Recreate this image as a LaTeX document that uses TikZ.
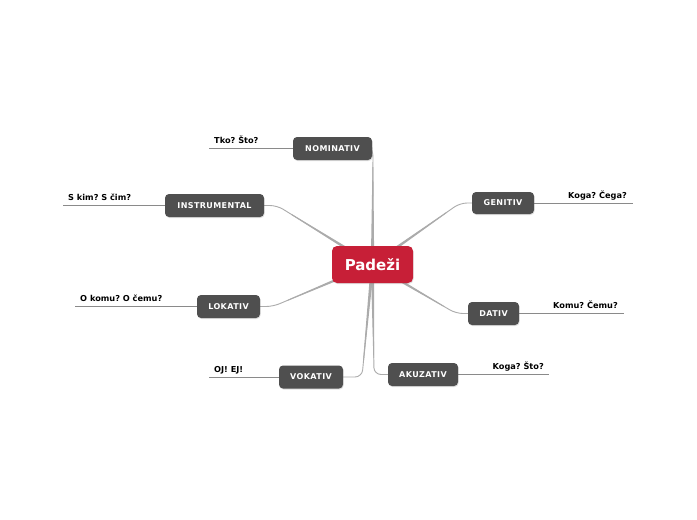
\documentclass[tikz,border=0pt]{standalone}
\usepackage{fontspec}
\setmainfont{DejaVu Sans}
\newfontfamily\boxfont[LetterSpace=5]{DejaVu Sans}
\usetikzlibrary{calc,shadows,backgrounds}
\frenchspacing
\definecolor{rootred}{HTML}{C71F37}
\definecolor{boxgray}{HTML}{4F4F4F}
\definecolor{conngray}{HTML}{ABABAB}
\definecolor{labgray}{HTML}{8A8A8A}
\tikzset{
  casebox/.style={draw=none, fill=boxgray, rounded corners=4pt, text=white,
    font=\boxfont\bfseries\fontsize{8}{9}\selectfont, inner sep=0pt,
    minimum height=23pt, drop shadow={shadow xshift=0.6pt, shadow yshift=-1pt, opacity=0.25}},
  rootbox/.style={draw=none, fill=rootred, rounded corners=5pt, text=white,
    font=\bfseries\fontsize{15}{18}\selectfont, inner sep=0pt,
    minimum width=81pt, minimum height=37pt,
    drop shadow={shadow xshift=0.6pt, shadow yshift=-1pt, opacity=0.25}},
  qtext/.style={font=\bfseries\fontsize{8.2}{9}\selectfont, inner sep=0pt, anchor=base west},
  qtextr/.style={qtext, anchor=base east},
  labline/.style={draw=labgray, line width=0.7pt},
  connline/.style={draw=conngray, line width=0.9pt, rounded corners=7pt},
}
\newcommand\taper[2]{%
  \fill[conngray] ($(#1)!1.7pt!90:(#2)$) -- ($(#2)!0.45pt!-90:(#1)$) --
    ($(#2)!0.45pt!90:(#1)$) -- ($(#1)!1.7pt!-90:(#2)$) -- cycle;}
\begin{document}
\begin{tikzpicture}[x=1pt,y=-1pt]
\useasboundingbox (0,0) rectangle (697,520);
% nodes
\node[rootbox] (root) at (372.5,264.5) {Padeži};
\node[casebox, minimum width=79pt] (nom) at (332.5,148.5) {NOMINATIV};
\node[casebox, minimum width=99pt] (ins) at (214.5,205.5) {INSTRUMENTAL};
\node[casebox, minimum width=62pt, minimum height=22pt] (gen) at (503,203) {GENITIV};
\node[casebox, minimum width=51pt] (dat) at (493.5,313.5) {DATIV};
\node[casebox, minimum width=63pt] (lok) at (228.5,306.5) {LOKATIV};
\node[casebox, minimum width=64pt] (vok) at (311,377) {VOKATIV};
\node[casebox, minimum width=70pt] (aku) at (423,374.5) {AKUZATIV};
% coordinates
\coordinate (c) at (372.5,264.5);
\coordinate (kins) at (277,205.5);
\coordinate (kgen) at (460,203);
\coordinate (kdat) at (456,313.5);
\coordinate (klok) at (273,306.5);
\coordinate (kvok) at (362,377);
\coordinate (kaku) at (374,374.5);
\coordinate (knom) at (373,150);
\coordinate (lnom) at (209,148.5);
\coordinate (lins) at (63,205.5);
\coordinate (lgen) at (633,203);
\coordinate (ldat) at (624,313.5);
\coordinate (llok) at (75,306.5);
\coordinate (lvok) at (209,377);
\coordinate (laku) at (549,374.5);
\begin{pgfonlayer}{background}
  \fill[white] (0,0) rectangle (697,520);
  % connectors
  \draw[connline] (c) -- (knom) -- (nom.east);
  \taper{c}{$(c)!0.85!(knom)$}
  \draw[connline] (c) -- (kins) -- (ins.east);
  \taper{c}{$(c)!0.85!(kins)$}
  \draw[connline] (c) -- (kgen) -- (gen.west);
  \taper{c}{$(c)!0.85!(kgen)$}
  \draw[connline] (c) -- (kdat) -- (dat.west);
  \taper{c}{$(c)!0.85!(kdat)$}
  \draw[connline] (c) -- (klok) -- (lok.east);
  \taper{c}{$(c)!0.85!(klok)$}
  \draw[connline] (c) -- (kvok) -- (vok.east);
  \taper{c}{$(c)!0.85!(kvok)$}
  \draw[connline] (c) -- (kaku) -- (aku.west);
  \taper{c}{$(c)!0.85!(kaku)$}
  % label lines
  \draw[labline] (nom.west) -- (lnom);
  \draw[labline] (ins.west) -- (lins);
  \draw[labline] (gen.east) -- (lgen);
  \draw[labline] (dat.east) -- (ldat);
  \draw[labline] (lok.west) -- (llok);
  \draw[labline] (vok.west) -- (lvok);
  \draw[labline] (aku.east) -- (laku);
\end{pgfonlayer}
% labels
\node[qtext] (tnom) at ($(lnom)+(5,-5)$) {Tko? Što?};
\node[qtext] (tins) at ($(lins)+(5,-5)$) {S kim? S čim?};
\node[qtextr] (tgen) at ($(lgen)+(-6,-5)$) {Koga? Čega?};
\node[qtextr] (tdat) at ($(ldat)+(-6,-5)$) {Komu? Čemu?};
\node[qtext] (tlok) at ($(llok)+(5,-5)$) {O komu? O čemu?};
\node[qtext] (tvok) at ($(lvok)+(5,-5)$) {OJ! EJ!};
\node[qtextr] (taku) at ($(laku)+(-5,-5)$) {Koga? Što?};
\end{tikzpicture}
\end{document}
